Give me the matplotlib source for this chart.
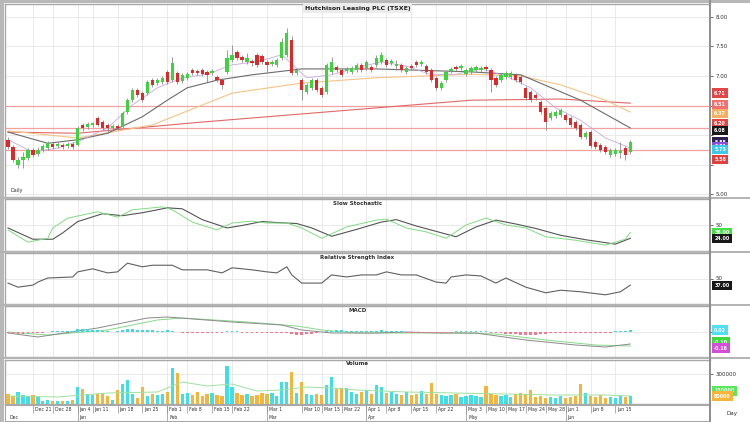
import numpy as np
import matplotlib
matplotlib.use('Agg')
from matplotlib import pyplot as plt
from matplotlib.patches import Rectangle
from matplotlib.transforms import blended_transform_factory

title = 'Hutchison Leasing PLC (TSXE)'

# daily candles
opens = [5.92, 5.80, 5.49, 5.58, 5.61, 5.75, 5.68, 5.75, 5.78, 5.85,
         5.81, 5.83, 5.81, 5.85, 5.83, 6.17, 6.14, 6.17, 6.29, 6.22,
         6.17, 6.12, 6.15, 6.14, 6.39, 6.59, 6.76, 6.71, 6.71, 6.93,
         6.88, 6.90, 7.07, 6.93, 7.05, 6.92, 6.97, 7.10, 7.08, 7.10,
         7.07, 7.05, 6.98, 6.93, 7.07, 7.27, 7.41, 7.32, 7.24, 7.25,
         7.36, 7.34, 7.24, 7.20, 7.19, 7.31, 7.36, 7.61, 7.05, 6.93,
         6.73, 6.80, 6.93, 6.80, 6.73, 7.07, 7.15, 7.10, 7.08, 7.07,
         7.10, 7.19, 7.14, 7.15, 7.19, 7.24, 7.27, 7.22, 7.17, 7.19,
         7.07, 7.17, 7.24, 7.20, 7.17, 7.10, 6.97, 6.80, 6.93, 7.08,
         7.15, 7.14, 7.03, 7.07, 7.10, 7.10, 7.15, 7.10, 6.97, 6.93,
         6.98, 6.98, 7.02, 6.98, 6.80, 6.73, 6.68, 6.56, 6.46, 6.29,
         6.32, 6.34, 6.34, 6.29, 6.22, 6.17, 5.97, 6.05, 5.88, 5.83,
         5.80, 5.66, 5.68, 5.70, 5.78, 5.71]
highs = [5.97, 5.83, 5.63, 5.71, 5.78, 5.78, 5.80, 5.85, 5.90, 5.88,
         5.88, 5.86, 5.88, 5.88, 6.15, 6.20, 6.22, 6.22, 6.32, 6.25,
         6.20, 6.19, 6.19, 6.41, 6.63, 6.80, 6.80, 6.75, 6.93, 6.97,
         6.97, 7.00, 7.10, 7.32, 7.08, 7.05, 7.07, 7.14, 7.12, 7.14,
         7.10, 7.12, 7.02, 6.97, 7.44, 7.53, 7.44, 7.36, 7.39, 7.29,
         7.39, 7.37, 7.27, 7.27, 7.31, 7.64, 7.81, 7.68, 7.14, 6.97,
         6.88, 6.97, 6.97, 6.83, 7.22, 7.32, 7.19, 7.14, 7.15, 7.17,
         7.22, 7.22, 7.27, 7.19, 7.36, 7.41, 7.31, 7.29, 7.27, 7.22,
         7.17, 7.20, 7.27, 7.27, 7.20, 7.14, 7.00, 6.92, 7.10, 7.15,
         7.19, 7.20, 7.14, 7.17, 7.19, 7.17, 7.19, 7.14, 7.00, 7.05,
         7.08, 7.08, 7.05, 7.02, 6.83, 6.76, 6.71, 6.59, 6.49, 6.41,
         6.42, 6.46, 6.37, 6.32, 6.25, 6.20, 6.07, 6.08, 5.92, 5.86,
         5.83, 5.78, 5.78, 5.88, 5.81, 5.92]
lows = [5.76, 5.54, 5.44, 5.44, 5.58, 5.63, 5.64, 5.71, 5.75, 5.76,
        5.78, 5.76, 5.78, 5.76, 5.81, 6.07, 6.10, 6.14, 6.15, 6.08,
        6.03, 6.08, 6.08, 6.12, 6.36, 6.56, 6.64, 6.56, 6.68, 6.81,
        6.85, 6.86, 6.86, 6.90, 6.86, 6.88, 6.93, 7.02, 7.02, 7.00,
        6.90, 7.02, 6.90, 6.78, 7.03, 7.24, 7.27, 7.24, 7.20, 7.17,
        7.15, 7.20, 7.07, 7.17, 7.15, 7.27, 7.32, 7.02, 7.02, 6.59,
        6.70, 6.76, 6.73, 6.64, 6.70, 7.03, 7.07, 6.98, 7.05, 7.03,
        7.07, 7.07, 7.10, 7.07, 7.15, 7.20, 7.15, 7.19, 7.10, 7.07,
        7.03, 7.10, 7.15, 7.17, 7.03, 6.90, 6.76, 6.76, 6.90, 7.05,
        7.08, 7.10, 7.00, 7.03, 7.07, 7.07, 7.08, 6.73, 6.81, 6.90,
        6.95, 6.95, 6.90, 6.86, 6.59, 6.56, 6.59, 6.36, 6.08, 6.25,
        6.29, 6.30, 6.22, 6.14, 6.08, 5.93, 5.93, 5.78, 5.76, 5.71,
        5.68, 5.63, 5.64, 5.61, 5.58, 5.68]
closes = [5.80, 5.58, 5.58, 5.63, 5.75, 5.66, 5.75, 5.81, 5.86, 5.80,
          5.85, 5.80, 5.85, 5.80, 6.12, 6.12, 6.19, 6.20, 6.17, 6.12,
          6.12, 6.15, 6.12, 6.37, 6.59, 6.76, 6.68, 6.59, 6.90, 6.85,
          6.93, 6.97, 6.90, 7.22, 6.90, 7.02, 7.03, 7.05, 7.05, 7.03,
          7.02, 7.08, 6.93, 6.85, 7.31, 7.36, 7.31, 7.27, 7.31, 7.22,
          7.19, 7.24, 7.19, 7.24, 7.27, 7.58, 7.73, 7.05, 7.10, 6.76,
          6.85, 6.93, 6.76, 6.68, 7.19, 7.24, 7.10, 7.02, 7.12, 7.14,
          7.19, 7.10, 7.24, 7.10, 7.31, 7.36, 7.19, 7.25, 7.20, 7.10,
          7.14, 7.14, 7.19, 7.24, 7.07, 6.93, 6.80, 6.88, 7.07, 7.12,
          7.12, 7.17, 7.10, 7.14, 7.15, 7.14, 7.12, 6.93, 6.85, 7.02,
          7.05, 7.05, 6.93, 6.90, 6.63, 6.59, 6.63, 6.39, 6.22, 6.37,
          6.39, 6.42, 6.25, 6.17, 6.12, 5.97, 6.03, 5.81, 5.80, 5.75,
          5.71, 5.75, 5.75, 5.73, 5.66, 5.88]

# volume in thousands
volume = [100, 80, 120, 90, 80, 90, 70, 30, 40, 30,
          30, 30, 30, 40, 170, 150, 100, 90, 100, 110,
          80, 40, 140, 200, 240, 100, 60, 170, 80, 100,
          90, 100, 120, 360, 310, 100, 110, 90, 120, 80,
          100, 110, 90, 80, 380, 170, 110, 90, 100, 80,
          90, 110, 100, 110, 80, 220, 220, 320, 110, 220,
          100, 90, 100, 90, 190, 270, 150, 160, 160, 120,
          100, 120, 140, 100, 190, 170, 110, 120, 100, 90,
          120, 90, 100, 130, 100, 210, 100, 90, 80, 90,
          100, 70, 80, 90, 80, 70, 180, 100, 90, 80,
          90, 70, 100, 110, 100, 140, 70, 80, 60, 70,
          60, 80, 60, 70, 80, 200, 110, 80, 70, 90,
          60, 70, 60, 80, 70, 80]
vol_ma_idx = [0, 10, 20, 30, 35, 40, 45, 50, 55, 60, 65, 70, 75, 80, 90, 100, 110, 120, 125]
vol_ma = [80, 70, 110, 120, 220, 180, 200, 130, 140, 170, 160, 140, 130, 120, 110, 100, 90, 90, 80]

# moving averages on price
ma_short_idx = [0, 5, 10, 15, 20, 25, 30, 35, 40, 45, 50, 55, 60, 65, 70, 75, 80, 85, 90, 95,
                100, 105, 110, 115, 120, 125]
ma_short = [5.92, 5.71, 5.78, 5.92, 6.12, 6.51, 6.80, 6.97, 7.03, 7.19, 7.24, 7.36, 6.97, 7.02,
            7.14, 7.24, 7.17, 7.02, 7.03, 7.12, 7.00, 6.80, 6.46, 6.25, 5.95, 5.78]
ma_mid_idx = [0, 8, 14, 20, 27, 32, 36, 42, 49, 54, 59, 74, 93, 103, 115, 125]
ma_mid = [6.05, 5.86, 5.92, 6.03, 6.31, 6.59, 6.80, 6.93, 7.02, 7.07, 7.12, 7.12, 7.07, 7.02, 6.59, 6.12]
ma_long_idx = [0, 14, 29, 45, 59, 74, 93, 103, 111, 120, 125]
ma_long = [6.07, 5.95, 6.17, 6.71, 6.88, 6.97, 7.03, 7.00, 6.85, 6.59, 6.39]
ma_200_idx = [0, 14, 39, 74, 93, 111, 125]
ma_200 = [6.05, 6.03, 6.22, 6.46, 6.59, 6.61, 6.54]
levels = [6.50, 6.12, 5.75]

price_tags = [6.71, 6.51, 6.37, 6.20, 6.08, 5.88, 5.81, 5.75, 5.58]
price_tag_colors = ['#e04848', '#f07070', '#f4b060', '#e04848', '#181818', '#302050', '#8a50d8', '#40c8e8', '#e04040']

# slow stochastic
stoch_k_idx = [0, 4, 8, 9, 12, 18, 22, 25, 31, 33, 37, 42, 45, 49, 52, 56, 59, 63, 68, 74, 76,
               80, 84, 88, 92, 96, 100, 104, 108, 114, 120, 124, 125]
stoch_k = [41, 16, 24, 45, 65, 78, 67, 82, 88, 82, 57, 41, 55, 59, 55, 55, 45, 24, 47, 61, 63,
           45, 37, 24, 51, 65, 51, 45, 27, 20, 10, 22, 36]
stoch_d_idx = [0, 5, 9, 11, 14, 19, 23, 27, 32, 35, 39, 44, 47, 51, 54, 58, 61, 65, 70, 75, 78,
               82, 86, 90, 94, 98, 102, 106, 111, 116, 122, 125]
stoch_d = [45, 22, 22, 35, 58, 74, 70, 76, 86, 84, 62, 45, 50, 58, 56, 54, 45, 28, 42, 57, 62,
           49, 38, 27, 47, 61, 53, 44, 30, 21, 12, 24]

# relative strength index
rsi_idx = [0, 2, 5, 6, 8, 13, 14, 17, 20, 22, 24, 27, 29, 33, 35, 40, 43, 45, 49, 52,
           54, 56, 57, 59, 63, 65, 68, 71, 74, 76, 79, 82, 86, 88, 89, 92, 95, 98, 100, 104,
           108, 111, 115, 120, 123, 125]
rsi = [41, 33, 37, 43, 51, 53, 63, 69, 61, 63, 80, 73, 76, 76, 67, 67, 61, 71, 67, 63,
       61, 73, 57, 41, 41, 57, 53, 57, 57, 63, 57, 57, 43, 41, 53, 57, 55, 41, 51, 33,
       22, 27, 24, 18, 24, 37]

# MACD
macd_idx = [0, 6, 18, 28, 32, 45, 55, 59, 65, 74, 80, 87, 94, 104, 114, 120, 125]
macd = [-0.01, -0.05, 0.04, 0.14, 0.15, 0.10, 0.07, 0.02, -0.01, -0.01, 0.0, -0.01, -0.01,
        -0.08, -0.13, -0.15, -0.12]
signal_idx = [0, 8, 20, 30, 35, 48, 58, 63, 70, 80, 90, 98, 108, 118, 125]
signal = [0.0, -0.03, 0.02, 0.12, 0.14, 0.10, 0.06, 0.02, -0.01, -0.01, -0.01, -0.02, -0.08,
          -0.13, -0.14]
hist = [-0.01, -0.02, -0.02, -0.02, -0.01, -0.01, -0.01, -0.01, 0.0, 0.01,
        0.01, 0.01, 0.01, 0.01, 0.03, 0.03, 0.03, 0.02, 0.02, 0.01,
        0.01, 0.005, 0.01, 0.02, 0.03, 0.03, 0.02, 0.02, 0.02, 0.02,
        0.01, 0.01, 0.02, 0.01, 0.0, -0.01, -0.01, -0.01, -0.01, -0.01,
        -0.01, -0.01, -0.01, -0.01, 0.01, 0.01, 0.01, -0.01, -0.01, -0.01,
        -0.01, -0.01, -0.01, -0.01, -0.01, -0.01, -0.01, -0.02, -0.03, -0.03,
        -0.02, -0.02, -0.01, 0.0, 0.01, 0.01, 0.02, 0.02, 0.01, 0.01,
        0.01, 0.01, 0.01, 0.01, 0.01, 0.02, 0.01, 0.01, 0.01, 0.01,
        -0.01, -0.01, -0.01, -0.01, -0.01, -0.01, -0.01, -0.01, -0.01, -0.01,
        0.01, 0.01, 0.01, 0.01, 0.01, 0.01, 0.01, -0.01, -0.01, -0.01,
        -0.02, -0.02, -0.02, -0.03, -0.03, -0.03, -0.03, -0.02, -0.02, -0.01,
        -0.01, -0.005, -0.005, -0.005, -0.005, -0.005, -0.005, -0.005, -0.005, -0.005,
        -0.005, -0.005, 0.01, 0.01, 0.01, 0.02]
macd_tags = [0.02, -0.10, -0.16]
macd_tag_colors = ['#50e0f0', '#40d840', '#d050d8']

week_idx = [5, 9, 14, 17, 22, 27, 32, 36, 41, 45, 52, 59, 63, 67, 72, 76, 81, 86, 92, 96,
            100, 104, 108, 112, 117, 122]
week_labels = ['Dec 21', 'Dec 28', 'Jan 4', 'Jan 11', 'Jan 18', 'Jan 25', 'Feb 1', 'Feb 8',
               'Feb 15', 'Feb 22', 'Mar 1', 'Mar 10', 'Mar 15', 'Mar 22', 'Apr 1', 'Apr 8',
               'Apr 15', 'Apr 22', 'May 3', 'May 10', 'May 17', 'May 24', 'May 28', 'Jun 1',
               'Jun 8', 'Jun 15']
month_idx = [0, 14, 32, 52, 72, 92, 112]
month_labels = ['Dec', 'Jan', 'Feb', 'Mar', 'Apr', 'May', 'Jun']

W, H = 750, 422
XLIM = (-0.6, 141)
GRID = '#e6e6e6'
FRAME = '#a8a8a8'


def px_rect(x0, y0, x1, y1):
  return [x0 / W, 1 - y1 / H, (x1 - x0) / W, (y1 - y0) / H]


def panel(fig, y0, y1, ylim, yticks, ylabels):
  ax = fig.add_axes(px_rect(5, y0, 710, y1))
  ax.set_xlim(*XLIM)
  ax.set_ylim(*ylim)
  for s in ax.spines.values():
    s.set_color(FRAME)
    s.set_linewidth(1.0)
  ax.spines['right'].set_color('#909090')
  ax.spines['right'].set_linewidth(1.4)
  ax.set_xticks(week_idx)
  ax.tick_params(axis='x', length=0, labelbottom=False)
  ax.yaxis.tick_right()
  ax.set_yticks(yticks)
  ax.set_yticklabels(ylabels)
  ax.tick_params(axis='y', labelsize=4, length=2, width=0.5, colors='#303030', pad=2)
  ax.grid(True, color=GRID, lw=0.6)
  ax.set_axisbelow(True)
  return ax


def tag(ax, value, color, text, tcolor='white'):
  tr = blended_transform_factory(ax.transAxes, ax.transData)
  ax.text(1.006, value, text, transform=tr, ha='left', va='center', fontsize=3.4,
          color=tcolor, fontweight='bold', clip_on=False, zorder=6,
          bbox=dict(boxstyle='square,pad=0.45', fc=color, ec='none'))


def head(ax, text):
  ax.text(0.5, 0.97, text, transform=ax.transAxes, ha='center', va='top', fontsize=4,
          fontweight='bold', color='#303030', zorder=6)


def plot():
  fig = plt.figure(figsize=(W / 100, H / 100), dpi=100)
  x = np.arange(len(closes))
  o = np.array(opens)
  c = np.array(closes)
  up = c >= o

  # price panel
  p1 = panel(fig, 4, 197, (4.95, 8.22), [5.0, 5.5, 6.0, 6.5, 7.0, 7.5, 8.0],
             ['5.00', '', '', '', '7.00', '7.50', '8.00'])
  for lv in levels:
    p1.axhline(lv, color='#f2a0a0', lw=0.9, zorder=1)
  p1.plot(ma_200_idx, ma_200, color='#e06868', lw=0.8, zorder=2)
  p1.plot(ma_long_idx, ma_long, color='#f5c488', lw=0.8, zorder=2)
  p1.plot(ma_mid_idx, ma_mid, color='#6c6c6c', lw=0.8, zorder=2)
  p1.plot(ma_short_idx, ma_short, color='#c8a8e0', lw=0.6, zorder=2)
  p1.vlines(x, lows, highs, color='#8a8a8a', lw=0.6, zorder=3)
  p1.bar(x, np.maximum(np.abs(c - o), 0.012), bottom=np.minimum(o, c), width=0.66,
         color=np.where(up, '#3cd43c', '#e02828'), lw=0, zorder=4)
  for v, col in zip(price_tags, price_tag_colors):
    tag(p1, v, col, '%.2f' % v)
  p1.text(0.5, 0.99, title, transform=p1.transAxes, ha='center', va='top', fontsize=4.5,
          fontweight='bold', color='#202020', zorder=6,
          bbox=dict(boxstyle='square,pad=0.3', fc='#ececec', ec='none'))
  p1.text(0.008, 0.02, 'Daily', transform=p1.transAxes, ha='left', va='bottom',
          fontsize=3.5, color='#303030')

  # slow stochastic
  p2 = panel(fig, 199, 251, (-2, 104), [50], ['50'])
  p2.plot(stoch_d_idx, stoch_d, color='#555555', lw=0.8)
  p2.plot(stoch_k_idx, stoch_k, color='#80dc80', lw=0.7)
  tag(p2, stoch_k[-1], '#44e044', '%.2f' % stoch_k[-1])
  tag(p2, stoch_d[-1], '#181818', '%.2f' % stoch_d[-1])
  head(p2, 'Slow Stochastic')

  # RSI
  p3 = panel(fig, 253, 304, (0, 100), [50], ['50'])
  p3.plot(rsi_idx, rsi, color='#606060', lw=0.8)
  tag(p3, rsi[-1], '#181818', '%.2f' % rsi[-1])
  head(p3, 'Relative Strength Index')

  # MACD
  p4 = panel(fig, 306, 357, (-0.25, 0.26), [0], [''])
  h = np.array(hist)
  p4.bar(x, h, width=0.55, color=np.where(h >= 0, '#40d8e0', '#f07890'), lw=0, zorder=3)
  p4.plot(signal_idx, signal, color='#88d888', lw=0.7)
  p4.plot(macd_idx, macd, color='#8a8a8a', lw=0.7)
  for v, col in zip(macd_tags, macd_tag_colors):
    tag(p4, v, col, '%.2f' % v)
  head(p4, 'MACD')

  # volume
  p5 = panel(fig, 360, 404, (0, 440), [300], ['300000'])
  p5.bar(x, volume, width=0.66, color=np.where(up, '#3ee0e8', '#f5b43a'), lw=0, zorder=3)
  p5.plot(vol_ma_idx, vol_ma, color='#a0e0a0', lw=0.7, zorder=4)
  tag(p5, vol_ma[-1] + 50, '#58e858', '%d000' % (vol_ma[-1] + 50))
  tag(p5, volume[-1], '#f5b43a', '%d000' % volume[-1])
  head(p5, 'Volume')

  # date axis
  pd_ = fig.add_axes(px_rect(5, 405, 710, 421))
  pd_.set_xlim(*XLIM)
  pd_.set_ylim(0, 1)
  pd_.set_xticks([])
  pd_.set_yticks([])
  for s in pd_.spines.values():
    s.set_color(FRAME)
    s.set_linewidth(0.8)
  pd_.spines['right'].set_color('#909090')
  pd_.spines['right'].set_linewidth(1.4)
  pd_.vlines(week_idx, 0.5, 1.0, color='#909090', lw=0.5)
  pd_.vlines(month_idx[1:], 0.0, 1.0, color='#909090', lw=0.5)
  for i, lab in zip(week_idx, week_labels):
    pd_.text(i + 0.4, 0.74, lab, ha='left', va='center', fontsize=3.3, color='#303030')
  for i, lab in zip(month_idx, month_labels):
    pd_.text(i + 0.4, 0.24, lab, ha='left', va='center', fontsize=3.3, color='#303030')
  fig.text(732 / W, 1 - 414 / H, 'Day', ha='center', va='center', fontsize=4, color='#303030')

  # outer frame and panel separators
  fig.add_artist(Rectangle((0, 0), 4 / W, 1, transform=fig.transFigure, color='#b8b8b8', lw=0))
  fig.add_artist(Rectangle((0, 1 - 3 / H), 1, 3 / H, transform=fig.transFigure, color='#b8b8b8', lw=0))
  for y in [197, 251, 304, 357]:
    fig.add_artist(Rectangle((0, 1 - (y + 2) / H), 1, 2 / H, transform=fig.transFigure,
                             color='#b4b4b4', lw=0))
  fig.add_artist(Rectangle((709 / W, 0), 1.5 / W, 1, transform=fig.transFigure, color='#909090', lw=0))
  fig.savefig('out.png', dpi=100)


if __name__ == '__main__':
  plot()
